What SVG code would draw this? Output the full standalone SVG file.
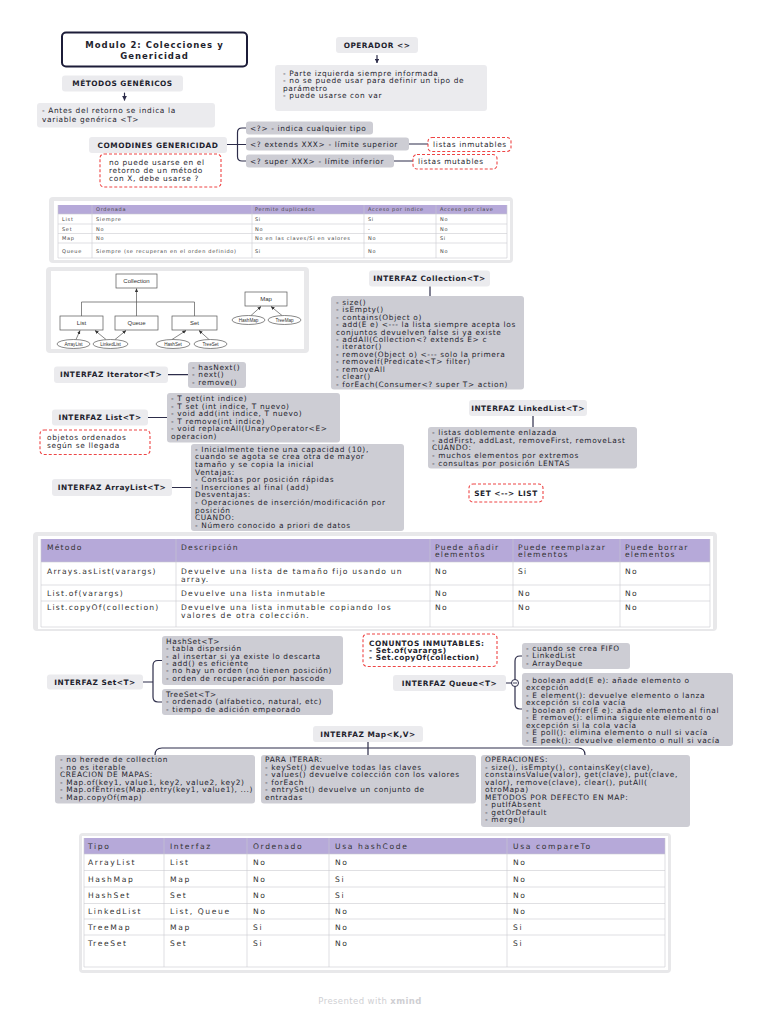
<svg xmlns="http://www.w3.org/2000/svg" width="768" height="1024" viewBox="0 0 768 1024">
<defs>
<style>
.t{font-family:'DejaVu Sans','Liberation Sans',sans-serif;font-size:7.4px;letter-spacing:0.65px;fill:#1f1f2e}
.b{font-weight:bold;letter-spacing:0.5px}
.tt{font-weight:bold;font-size:8.5px;letter-spacing:1px}
.m{text-anchor:middle}
.lt{fill:#ebebee}
.dk{fill:#cdcdd4}
.rd{fill:#fff;stroke:#ee4545;stroke-width:1.1;stroke-dasharray:3 2}
.cn{fill:none;stroke:#2d2d4a;stroke-width:1.2;stroke-linecap:round}
.fr{fill:#e8e8ea}
.hd{fill:#b6a9d9}
.gl{stroke:#cbcbd0;stroke-width:0.6;fill:none}
.t1{font-family:'DejaVu Sans',sans-serif;font-size:5px;letter-spacing:0.7px;fill:#444}
.t2{font-family:'DejaVu Sans',sans-serif;font-size:7.6px;letter-spacing:1.2px;fill:#333}
.t3{font-family:'DejaVu Sans',sans-serif;font-size:7.6px;letter-spacing:1.6px;fill:#333}
.dg{fill:#fff;stroke:#555;stroke-width:0.7}
.dl{fill:none;stroke:#555;stroke-width:0.7}
.dt{font-family:'Liberation Sans',Arial,sans-serif;font-size:6px;fill:#333;text-anchor:middle}
.ds{font-family:'Liberation Sans',Arial,sans-serif;font-size:4.6px;fill:#333;text-anchor:middle}
.ft{font-family:'DejaVu Sans',sans-serif;font-size:8.5px;letter-spacing:0.4px;fill:#cfcfd3}
</style>
<marker id="ah" viewBox="0 0 6 6" refX="5" refY="3" markerWidth="4" markerHeight="4" orient="auto"><path d="M0,0 L6,3 L0,6 z" fill="#2d2d4a"/></marker>
<marker id="da" viewBox="0 0 6 6" refX="5.5" refY="3" markerUnits="userSpaceOnUse" markerWidth="4" markerHeight="4" orient="auto"><path d="M0,0.5 L6,3 L0,5.5 z" fill="#333"/></marker>
</defs>
<rect width="768" height="1024" fill="#fff"/>

<g id="connectors">
<path class="cn" d="M124.5,93 V100" marker-end="url(#ah)"/>
<path class="cn" d="M377,55.5 V62.5" marker-end="url(#ah)"/>
<path class="cn" d="M227,144.5 H246 M246,128 H242 Q237.5,128 237.5,132.5 V156.5 Q237.5,161 242,161 H246"/>
<path class="cn" d="M409,144 H428"/>
<path class="cn" d="M394,161 H413"/>
<path class="cn" d="M430,286.5 V296"/>
<path class="cn" d="M168,374.7 H188"/>
<path class="cn" d="M148,417.5 H167"/>
<path class="cn" d="M172,487.5 H191"/>
<path class="cn" d="M533,416 V427"/>
<path class="cn" d="M143,682 H153 M162,660.5 H158 Q153,660.5 153,665.5 V697 Q153,702 158,702 H162"/>
<path class="cn" d="M506,683 H515 M522,656 H520 Q515,656 515,661 V704 Q515,709 520,709 H522"/>
<circle cx="515" cy="683" r="3.5" fill="#fff" stroke="#2d2d4a" stroke-width="1"/>
<path d="M513,683 H517" stroke="#2d2d4a" stroke-width="0.9"/>
<path class="cn" d="M368,742 V755 M155,755 Q155,748 162,748 H578 Q585,748 585,755"/>
</g>

<g id="title">
<rect x="62" y="32.5" width="185" height="34" rx="4" fill="#fff" stroke="#1c1c38" stroke-width="2"/>
<text class="t tt m" x="154.5" y="47.6">Modulo 2: Colecciones y</text>
<text class="t tt m" x="154.5" y="58.8">Genericidad</text>
</g>

<g id="metodos-genericos">
<rect class="lt" x="62" y="75.5" width="121" height="16" rx="3"/>
<text class="t b m" x="122.5" y="86.2">MÉTODOS GENÉRICOS</text>
</g>
<g id="antes-retorno">
<rect class="lt" x="37" y="103" width="178" height="24.5" rx="3"/>
<text class="t" x="42" y="113.4">- Antes del retorno se indica la</text>
<text class="t" x="42" y="121.7">variable genérica &lt;T&gt;</text>
</g>

<g id="comodines">
<rect class="lt" x="89" y="137" width="138" height="16" rx="3"/>
<text class="t b m" x="158" y="147.7">COMODINES GENERICIDAD</text>
</g>
<g id="comodines-nota">
<rect class="rd" x="100" y="154" width="121" height="33" rx="4"/>
<text class="t" x="109" y="164.7">no puede usarse en el</text>
<text class="t" x="109" y="172.7">retorno de un método</text>
<text class="t" x="109" y="180.7">con X, debe usarse ?</text>
</g>
<g id="comodin-any">
<rect class="dk" x="246" y="121.5" width="127" height="13" rx="3"/>
<text class="t" x="250" y="130.7">&lt;?&gt; - indica cualquier tipo</text>
</g>
<g id="comodin-extends">
<rect class="dk" x="246" y="137.5" width="163" height="13" rx="3"/>
<text class="t" x="250" y="146.7">&lt;? extends XXX&gt; - límite superior</text>
</g>
<g id="comodin-super">
<rect class="dk" x="246" y="154.5" width="148" height="13" rx="3"/>
<text class="t" x="250" y="163.7">&lt;? super XXX&gt; - límite inferior</text>
</g>
<g id="listas-inmutables">
<rect class="rd" x="428" y="137.5" width="83" height="14" rx="4"/>
<text class="t" x="433" y="146.7">listas inmutables</text>
</g>
<g id="listas-mutables">
<rect class="rd" x="413" y="154.5" width="84" height="14.5" rx="4"/>
<text class="t" x="418" y="163.9">listas mutables</text>
</g>

<g id="operador">
<rect class="lt" x="336" y="37" width="82" height="16" rx="3"/>
<text class="t b m" x="377" y="47.7">OPERADOR &lt;&gt;</text>
</g>
<g id="operador-detalle">
<rect class="lt" x="275" y="65" width="212" height="46" rx="3"/>
<text class="t" x="283" y="75.7">- Parte izquierda siempre informada</text>
<text class="t" x="283" y="83.1">- no se puede usar para definir un tipo de</text>
<text class="t" x="283" y="90.5">parámetro</text>
<text class="t" x="283" y="97.9">- puede usarse con var</text>
</g>

<g id="tabla-tipos">
<rect class="fr" x="49" y="197" width="464" height="66" rx="4"/>
<rect x="54" y="201" width="456" height="59" fill="#fff"/>
<rect class="hd" x="58" y="205" width="449" height="9"/>
<path class="gl" d="M58,214 H507 M58,224 H507 M58,233.5 H507 M58,243 H507 M58,258 H507 M58,205 V258 M92,205 V258 M252,205 V258 M364,205 V258 M436,205 V258 M507,205 V258"/>
<text class="t1" x="96" y="211.3">Ordenada</text>
<text class="t1" x="255" y="211.3">Permite duplicados</text>
<text class="t1" x="368" y="211.3">Acceso por indice</text>
<text class="t1" x="440" y="211.3">Acceso por clave</text>
<text class="t1" x="62" y="220.8">List</text><text class="t1" x="96" y="220.8">Siempre</text><text class="t1" x="255" y="220.8">Si</text><text class="t1" x="368" y="220.8">Si</text><text class="t1" x="440" y="220.8">No</text>
<text class="t1" x="62" y="230.5">Set</text><text class="t1" x="96" y="230.5">No</text><text class="t1" x="255" y="230.5">No</text><text class="t1" x="368" y="230.5">-</text><text class="t1" x="440" y="230.5">No</text>
<text class="t1" x="62" y="240">Map</text><text class="t1" x="96" y="240">No</text><text class="t1" x="255" y="240">No en las claves/Si en valores</text><text class="t1" x="368" y="240">No</text><text class="t1" x="440" y="240">Si</text>
<text class="t1" x="62" y="252.8">Queue</text><text class="t1" x="96" y="252.8">Siempre (se recuperan en el orden definido)</text><text class="t1" x="255" y="252.8">Si</text><text class="t1" x="368" y="252.8">No</text><text class="t1" x="440" y="252.8">No</text>
</g>

<g id="jerarquia-colecciones">
<rect class="fr" x="46" y="267" width="263" height="86" rx="4"/>
<rect x="51" y="271" width="253" height="78" fill="#fff"/>
<path class="dl" d="M81.5,316 V302 H194.5 V316"/>
<path class="dl" d="M136.5,316 V288.5" marker-end="url(#da)"/>
<path class="dl" d="M76,339.5 L80,330.5" marker-end="url(#da)"/>
<path class="dl" d="M106,339.5 L95,330.5" marker-end="url(#da)"/>
<path class="dl" d="M115,339.5 L126,330.5" marker-end="url(#da)"/>
<path class="dl" d="M172,339.5 L186,330.5" marker-end="url(#da)"/>
<path class="dl" d="M209,339.5 L199,330.5" marker-end="url(#da)"/>
<path class="dl" d="M251,315.5 L261,306.5" marker-end="url(#da)"/>
<path class="dl" d="M282,315.5 L271,306.5" marker-end="url(#da)"/>
<rect class="dg" x="116" y="274" width="41" height="14"/><text class="dt" x="136.5" y="283.2">Collection</text>
<rect class="dg" x="60" y="316" width="43" height="14"/><text class="dt" x="81.5" y="325.2">List</text>
<rect class="dg" x="115" y="316" width="43" height="14"/><text class="dt" x="136.5" y="325.2">Queue</text>
<rect class="dg" x="172" y="316" width="45" height="14"/><text class="dt" x="194.5" y="325.2">Set</text>
<rect class="dg" x="245" y="292" width="42" height="14"/><text class="dt" x="266" y="301.2">Map</text>
<ellipse class="dg" cx="73.5" cy="344" rx="16.5" ry="4.5"/><text class="ds" x="73.5" y="345.7">ArrayList</text>
<ellipse class="dg" cx="110.5" cy="344" rx="17.5" ry="4.5"/><text class="ds" x="110.5" y="345.7">LinkedList</text>
<ellipse class="dg" cx="173" cy="344" rx="17" ry="4.5"/><text class="ds" x="173" y="345.7">HashSet</text>
<ellipse class="dg" cx="210.5" cy="344" rx="16.5" ry="4.5"/><text class="ds" x="210.5" y="345.7">TreeSet</text>
<ellipse class="dg" cx="248.5" cy="320" rx="16.5" ry="4.5"/><text class="ds" x="248.5" y="321.7">HashMap</text>
<ellipse class="dg" cx="284.5" cy="320" rx="16.5" ry="4.5"/><text class="ds" x="284.5" y="321.7">TreeMap</text>
</g>

<g id="interfaz-collection">
<rect class="lt" x="369" y="270.5" width="121" height="16" rx="3"/>
<text class="t b m" x="429.5" y="281.2">INTERFAZ Collection&lt;T&gt;</text>
</g>
<g id="collection-metodos">
<rect class="dk" x="331" y="296" width="193" height="93.5" rx="3"/>
<text class="t" x="336" y="304.7">- size()<tspan x="336" dy="7.45">- isEmpty()</tspan><tspan x="336" dy="7.45">- contains(Object o)</tspan><tspan x="336" dy="7.45">- add(E e) &lt;--- la lista siempre acepta los</tspan><tspan x="336" dy="7.45">conjuntos devuelven false si ya existe</tspan><tspan x="336" dy="7.45">- addAll(Collection&lt;? extends E&gt; c</tspan><tspan x="336" dy="7.45">- iterator()</tspan><tspan x="336" dy="7.45">- remove(Object o) &lt;--- solo la primera</tspan><tspan x="336" dy="7.45">- removeIf(Predicate&lt;T&gt; filter)</tspan><tspan x="336" dy="7.45">- removeAll</tspan><tspan x="336" dy="7.45">- clear()</tspan><tspan x="336" dy="7.45">- forEach(Consumer&lt;? super T&gt; action)</tspan></text>
</g>

<g id="interfaz-iterator">
<rect class="lt" x="54" y="366.5" width="114" height="16.5" rx="3"/>
<text class="t b m" x="111" y="377.4">INTERFAZ Iterator&lt;T&gt;</text>
</g>
<g id="iterator-metodos">
<rect class="dk" x="188" y="362" width="58" height="26" rx="3"/>
<text class="t" x="192" y="369.7">- hasNext()<tspan x="192" dy="7.5">- next()</tspan><tspan x="192" dy="7.5">- remove()</tspan></text>
</g>

<g id="interfaz-list">
<rect class="lt" x="52" y="409.5" width="96" height="16" rx="3"/>
<text class="t b m" x="100" y="420.2">INTERFAZ List&lt;T&gt;</text>
</g>
<g id="list-metodos">
<rect class="dk" x="167" y="393" width="173" height="49.5" rx="3"/>
<text class="t" x="171" y="401.2">- T get(int indice)<tspan x="171" dy="7.5">- T set (int indice, T nuevo)</tspan><tspan x="171" dy="7.5">- void add(int indice, T nuevo)</tspan><tspan x="171" dy="7.5">- T remove(int indice)</tspan><tspan x="171" dy="7.5">- void replaceAll(UnaryOperator&lt;E&gt;</tspan><tspan x="171" dy="7.5">operacion)</tspan></text>
</g>
<g id="list-nota">
<rect class="rd" x="40" y="430" width="110" height="24.5" rx="4"/>
<text class="t" x="47" y="439.7">objetos ordenados</text>
<text class="t" x="47" y="447.7">según se llegada</text>
</g>

<g id="interfaz-arraylist">
<rect class="lt" x="52" y="479" width="120" height="17" rx="3"/>
<text class="t b m" x="112" y="490.2">INTERFAZ ArrayList&lt;T&gt;</text>
</g>
<g id="arraylist-detalle">
<rect class="dk" x="191" y="444" width="213" height="87" rx="3"/>
<text class="t" x="195" y="451.7">- Inicialmente tiene una capacidad (10),<tspan x="195" dy="7.6">cuando se agota se crea otra de mayor</tspan><tspan x="195" dy="7.6">tamaño y se copia la inicial</tspan><tspan x="195" dy="7.6">Ventajas:</tspan><tspan x="195" dy="7.6">- Consultas por posición rápidas</tspan><tspan x="195" dy="7.6">- Inserciones al final (add)</tspan><tspan x="195" dy="7.6">Desventajas:</tspan><tspan x="195" dy="7.6">- Operaciones de inserción/modificación por</tspan><tspan x="195" dy="7.6">posición</tspan><tspan x="195" dy="7.6">CUANDO:</tspan><tspan x="195" dy="7.6">- Número conocido a priori de datos</tspan></text>
</g>

<g id="interfaz-linkedlist">
<rect class="lt" x="469" y="400" width="118" height="16" rx="3"/>
<text class="t b m" x="528" y="410.7">INTERFAZ LinkedList&lt;T&gt;</text>
</g>
<g id="linkedlist-detalle">
<rect class="dk" x="428" y="427" width="209" height="41.5" rx="3"/>
<text class="t" x="432" y="435">- listas doblemente enlazada<tspan x="432" dy="7.65">- addFirst, addLast, removeFirst, removeLast</tspan><tspan x="432" dy="7.65">CUANDO:</tspan><tspan x="432" dy="7.65">- muchos elementos por extremos</tspan><tspan x="432" dy="7.65">- consultas por posición LENTAS</tspan></text>
</g>
<g id="set-list">
<rect class="rd" x="469" y="484" width="74" height="18" rx="4"/>
<text class="t b m" x="506" y="495.7">SET &lt;--&gt; LIST</text>
</g>

<g id="tabla-metodos-list">
<rect class="fr" x="33" y="532" width="684" height="99" rx="4"/>
<rect x="38" y="536" width="675" height="93" fill="#fff"/>
<rect class="hd" x="41" y="539" width="669" height="23"/>
<path class="gl" d="M41,562 H710 M41,585 H710 M41,601 H710 M41,627 H710 M41,539 V627 M176,539 V627 M430,539 V627 M513,539 V627 M620,539 V627 M710,539 V627"/>
<text class="t2" x="47" y="549.5">Método</text>
<text class="t2" x="181" y="549.5">Descripción</text>
<text class="t2" x="435" y="549.5">Puede añadir</text><text class="t2" x="435" y="557">elementos</text>
<text class="t2" x="518" y="549.5">Puede reemplazar</text><text class="t2" x="518" y="557">elementos</text>
<text class="t2" x="625" y="549.5">Puede borrar</text><text class="t2" x="625" y="557">elementos</text>
<text class="t2" x="47" y="574.3">Arrays.asList(varargs)</text>
<text class="t2" x="181" y="574.3">Devuelve una lista de tamaño fijo usando un</text><text class="t2" x="181" y="581.8">array.</text>
<text class="t2" x="435" y="574.3">No</text><text class="t2" x="518" y="574.3">Si</text><text class="t2" x="625" y="574.3">No</text>
<text class="t2" x="47" y="596.3">List.of(varargs)</text>
<text class="t2" x="181" y="596.3">Devuelve una lista inmutable</text>
<text class="t2" x="435" y="596.3">No</text><text class="t2" x="518" y="596.3">No</text><text class="t2" x="625" y="596.3">No</text>
<text class="t2" x="47" y="610.3">List.copyOf(collection)</text>
<text class="t2" x="181" y="610.3">Devuelve una lista inmutable copiando los</text><text class="t2" x="181" y="617.8">valores de otra colección.</text>
<text class="t2" x="435" y="610.3">No</text><text class="t2" x="518" y="610.3">No</text><text class="t2" x="625" y="610.3">No</text>
</g>

<g id="interfaz-set">
<rect class="lt" x="47" y="674.5" width="96" height="15" rx="3"/>
<text class="t b m" x="95" y="684.7">INTERFAZ Set&lt;T&gt;</text>
</g>
<g id="hashset">
<rect class="dk" x="162" y="636" width="181" height="49" rx="3"/>
<text class="t" x="166" y="643.7">HashSet&lt;T&gt;<tspan x="166" dy="7.4">- tabla dispersión</tspan><tspan x="166" dy="7.4">- al insertar si ya existe lo descarta</tspan><tspan x="166" dy="7.4">- add() es eficiente</tspan><tspan x="166" dy="7.4">- no hay un orden (no tienen posición)</tspan><tspan x="166" dy="7.4">- orden de recuperación por hascode</tspan></text>
</g>
<g id="treeset">
<rect class="dk" x="162" y="689" width="171" height="26" rx="3"/>
<text class="t" x="166" y="696.7">TreeSet&lt;T&gt;<tspan x="166" dy="7.5">- ordenado (alfabetico, natural, etc)</tspan><tspan x="166" dy="7.5">- tiempo de adición empeorado</tspan></text>
</g>
<g id="conjuntos-inmutables">
<rect class="rd" x="363" y="634" width="134" height="32.5" rx="4"/>
<text class="t b" x="369" y="645.7">CONUNTOS INMUTABLES:<tspan x="369" dy="7.3">- Set.of(varargs)</tspan><tspan x="369" dy="7.3">- Set.copyOf(collection)</tspan></text>
</g>

<g id="interfaz-queue">
<rect class="lt" x="393" y="675" width="113" height="16" rx="3"/>
<text class="t b m" x="449.5" y="685.7">INTERFAZ Queue&lt;T&gt;</text>
</g>
<g id="queue-impl">
<rect class="dk" x="522" y="643" width="108" height="26" rx="3"/>
<text class="t" x="526" y="651">- cuando se crea FIFO<tspan x="526" dy="7.4">- LinkedList</tspan><tspan x="526" dy="7.4">- ArrayDeque</tspan></text>
</g>
<g id="queue-metodos">
<rect class="dk" x="522" y="673" width="211" height="73" rx="3"/>
<text class="t" x="526" y="682.7">- boolean add(E e): añade elemento o<tspan x="526" dy="7.5">excepción</tspan><tspan x="526" dy="7.5">- E element(): devuelve elemento o lanza</tspan><tspan x="526" dy="7.5">excepción si cola vacía</tspan><tspan x="526" dy="7.5">- boolean offer(E e): añade elemento al final</tspan><tspan x="526" dy="7.5">- E remove(): elimina siguiente elemento o</tspan><tspan x="526" dy="7.5">excepción si la cola vacía</tspan><tspan x="526" dy="7.5">- E poll(): elimina elemento o null si vacía</tspan><tspan x="526" dy="7.5">- E peek(): devuelve elemento o null si vacía</tspan></text>
</g>

<g id="interfaz-map">
<rect class="lt" x="313" y="726" width="110" height="16" rx="3"/>
<text class="t b m" x="368" y="736.7">INTERFAZ Map&lt;K,V&gt;</text>
</g>
<g id="map-creacion">
<rect class="dk" x="55" y="755" width="200" height="48.5" rx="3"/>
<text class="t" x="60" y="762.2">- no herede de collection<tspan x="60" dy="7.5">- no es iterable</tspan><tspan x="60" dy="7.5">CREACION DE MAPAS:</tspan><tspan x="60" dy="7.5">- Map.of(key1, value1, key2, value2, key2)</tspan><tspan x="60" dy="7.5">- Map.ofEntries(Map.entry(key1, value1), ...)</tspan><tspan x="60" dy="7.5">- Map.copyOf(map)</tspan></text>
</g>
<g id="map-iterar">
<rect class="dk" x="261" y="755" width="215" height="48.5" rx="3"/>
<text class="t" x="265" y="762.2">PARA ITERAR:<tspan x="265" dy="7.5">- keySet() devuelve todas las claves</tspan><tspan x="265" dy="7.5">- values() devuelve colección con los valores</tspan><tspan x="265" dy="7.5">- forEach</tspan><tspan x="265" dy="7.5">- entrySet() devuelve un conjunto de</tspan><tspan x="265" dy="7.5">entradas</tspan></text>
</g>
<g id="map-operaciones">
<rect class="dk" x="481" y="755" width="209" height="72" rx="3"/>
<text class="t" x="485" y="762.2">OPERACIONES:<tspan x="485" dy="7.5">- size(), isEmpty(), containsKey(clave),</tspan><tspan x="485" dy="7.5">constainsValue(valor), get(clave), put(clave,</tspan><tspan x="485" dy="7.5">valor), remove(clave), clear(), putAll(</tspan><tspan x="485" dy="7.5">otroMapa)</tspan><tspan x="485" dy="7.5">METODOS POR DEFECTO EN MAP:</tspan><tspan x="485" dy="7.5">- putIfAbsent</tspan><tspan x="485" dy="7.5">- getOrDefault</tspan><tspan x="485" dy="7.5">- merge()</tspan></text>
</g>

<g id="tabla-implementaciones">
<rect class="fr" x="79" y="833" width="592" height="140" rx="4"/>
<rect x="82" y="836" width="586" height="134" fill="#fff"/>
<rect class="hd" x="84" y="838" width="581" height="16"/>
<path class="gl" d="M84,854 H665 M84,870.5 H665 M84,887 H665 M84,903.5 H665 M84,919 H665 M84,935 H665 M84,967 H665 M84,838 V967 M164,838 V967 M247,838 V967 M329,838 V967 M507,838 V967 M665,838 V967"/>
<text class="t3" x="88" y="848.5">Tipo</text><text class="t3" x="170" y="848.5">Interfaz</text><text class="t3" x="253" y="848.5">Ordenado</text><text class="t3" x="335" y="848.5">Usa hashCode</text><text class="t3" x="513" y="848.5">Usa compareTo</text>
<text class="t3" x="88" y="864.8">ArrayList</text><text class="t3" x="170" y="864.8">List</text><text class="t3" x="253" y="864.8">No</text><text class="t3" x="335" y="864.8">No</text><text class="t3" x="513" y="864.8">No</text>
<text class="t3" x="88" y="881.8">HashMap</text><text class="t3" x="170" y="881.8">Map</text><text class="t3" x="253" y="881.8">No</text><text class="t3" x="335" y="881.8">Si</text><text class="t3" x="513" y="881.8">No</text>
<text class="t3" x="88" y="898.3">HashSet</text><text class="t3" x="170" y="898.3">Set</text><text class="t3" x="253" y="898.3">No</text><text class="t3" x="335" y="898.3">Si</text><text class="t3" x="513" y="898.3">No</text>
<text class="t3" x="88" y="914.3">LinkedList</text><text class="t3" x="170" y="914.3">List, Queue</text><text class="t3" x="253" y="914.3">No</text><text class="t3" x="335" y="914.3">No</text><text class="t3" x="513" y="914.3">No</text>
<text class="t3" x="88" y="929.8">TreeMap</text><text class="t3" x="170" y="929.8">Map</text><text class="t3" x="253" y="929.8">Si</text><text class="t3" x="335" y="929.8">No</text><text class="t3" x="513" y="929.8">Si</text>
<text class="t3" x="88" y="945.8">TreeSet</text><text class="t3" x="170" y="945.8">Set</text><text class="t3" x="253" y="945.8">Si</text><text class="t3" x="335" y="945.8">No</text><text class="t3" x="513" y="945.8">Si</text>
</g>

<text class="ft" x="370" y="1004" text-anchor="middle">Presented with <tspan font-weight="bold">xmind</tspan></text>
</svg>
